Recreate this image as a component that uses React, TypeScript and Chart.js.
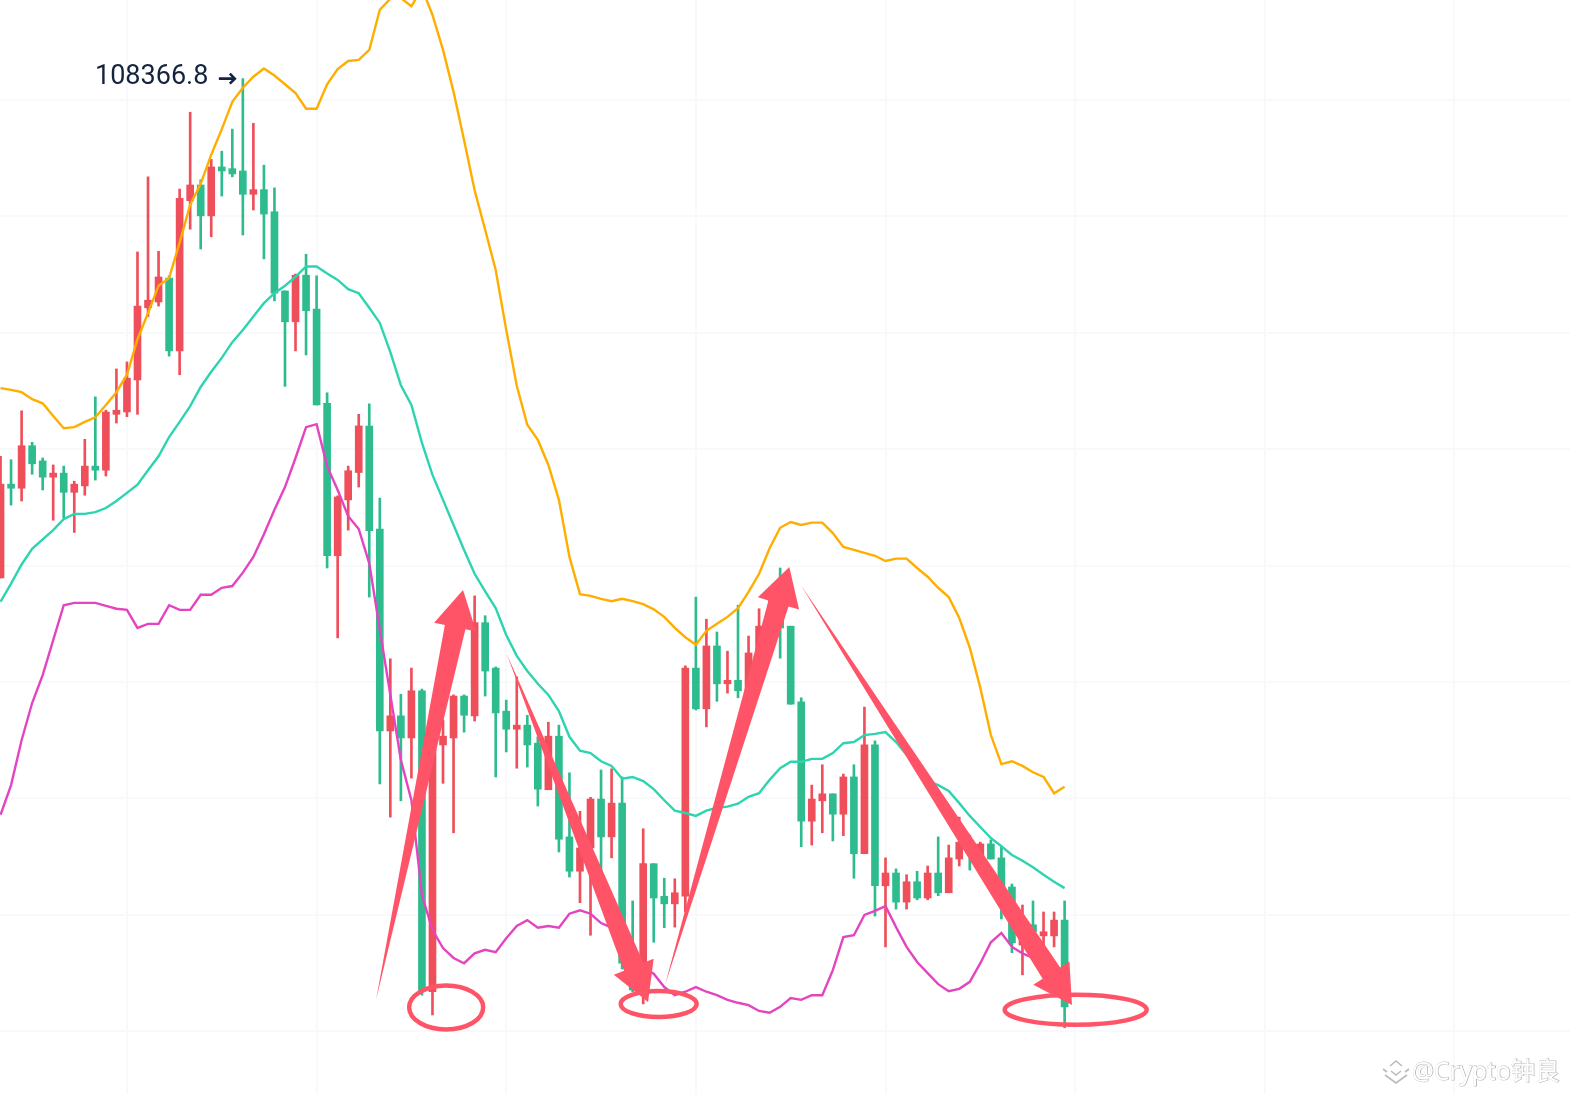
import React, { useEffect, useRef } from 'react';
import { Chart, ChartConfiguration, Plugin, registerables } from 'chart.js';

Chart.register(...registerables);

const opens = [99790, 101400, 101330, 102060, 101800, 101520, 101590, 101260, 101370, 101710, 101640, 102600, 102640, 103190, 104430, 104530, 104940, 103690, 106270, 106540, 106010, 106850, 106820, 106780, 106380, 106460, 106080, 104720, 104190, 104990, 104410, 102790, 100170, 101130, 101600, 102400, 100630, 97160, 97420, 97040, 97850, 92680, 96920, 97040, 97760, 97420, 99020, 98240, 97500, 97190, 97260, 96950, 96150, 97070, 95340, 94750, 95150, 95990, 95340, 95920, 93140, 92710, 94880, 94320, 94190, 94320, 98240, 97540, 98620, 97970, 98030, 97860, 98500, 98960, 99200, 98960, 97660, 95610, 95960, 96080, 95730, 96370, 95050, 96920, 94500, 94720, 94220, 94570, 94290, 94720, 94380, 94960, 95250, 94980, 95220, 94980, 94480, 93480, 93830, 93640, 93640, 93910];
const closes = [101400, 101330, 102060, 101750, 101520, 101590, 101260, 101400, 101710, 101640, 102640, 102670, 103220, 104460, 104560, 104960, 103690, 106310, 106540, 106010, 106850, 106780, 106730, 106380, 106460, 106040, 104680, 104190, 104990, 104380, 102760, 100170, 101180, 101630, 102400, 100600, 97160, 97420, 97040, 97850, 92690, 96920, 97070, 97760, 97430, 99020, 98190, 97470, 97190, 97260, 96920, 96160, 97070, 95300, 94750, 95150, 95990, 95340, 95920, 93170, 92710, 94880, 94290, 94190, 94380, 98240, 97540, 98620, 97970, 98030, 97850, 98500, 98960, 99200, 98930, 97620, 95610, 95990, 96080, 95730, 96370, 95050, 96920, 94500, 94720, 94220, 94570, 94290, 94720, 94380, 94980, 95250, 95100, 95220, 94960, 94260, 93520, 93830, 93710, 93710, 93910, 92420];
const highs = [101880, 101820, 102660, 102120, 101850, 101730, 101710, 101450, 102170, 102900, 102670, 103380, 103500, 105390, 106680, 105400, 104980, 106470, 107790, 106630, 106980, 107120, 107500, 108366.8, 107600, 106880, 106490, 104720, 105010, 105350, 104980, 102970, 101200, 101710, 102600, 102780, 101160, 98400, 97790, 98240, 97880, 97690, 97350, 97780, 97780, 99480, 99140, 98260, 97690, 98090, 97430, 97060, 97310, 97260, 96440, 95780, 96020, 96490, 96510, 96370, 94240, 95480, 94880, 94630, 94620, 98280, 99460, 99080, 98860, 98530, 99320, 98790, 99260, 99410, 99960, 98960, 97730, 96230, 96580, 96080, 96420, 96580, 97570, 96990, 94980, 94790, 94690, 94750, 94840, 95340, 95200, 95680, 95370, 95250, 95290, 95180, 94530, 94170, 94240, 94050, 94050, 94240];
const lows = [99790, 101040, 101110, 101570, 101300, 100780, 100820, 100570, 101210, 101470, 101540, 102450, 102560, 102600, 104280, 104460, 103600, 103280, 105780, 105440, 105650, 106350, 106680, 105680, 106110, 105270, 104550, 103080, 103690, 103620, 102760, 99960, 98760, 100610, 101350, 99460, 96250, 95680, 95960, 96350, 92620, 92280, 96260, 95410, 97140, 97330, 97760, 96370, 96800, 96520, 96540, 95870, 96150, 95080, 94650, 94210, 93650, 94720, 94980, 93070, 92680, 92470, 93530, 93780, 93790, 94050, 97520, 97230, 97670, 97810, 97730, 97640, 98380, 98720, 98410, 97620, 95170, 95200, 95410, 95270, 95360, 94630, 95050, 93980, 93450, 94100, 94100, 94260, 94260, 94330, 94380, 94840, 94770, 94910, 94960, 93930, 93350, 92970, 93400, 93310, 93450, 92060];

const upperBand = [103050, 103020, 102980, 102860, 102790, 102570, 102360, 102380, 102470, 102550, 102760, 102980, 103280, 103890, 104340, 104810, 104940, 105550, 106200, 106560, 107060, 107500, 107970, 108210, 108400, 108540, 108420, 108270, 108120, 107850, 107850, 108270, 108530, 108670, 108690, 108860, 109550, 109740, 109750, 109610, 109920, 109460, 108860, 108140, 107310, 106450, 105770, 105080, 104050, 103090, 102420, 102160, 101730, 101130, 100150, 99510, 99480, 99430, 99390, 99430, 99390, 99340, 99250, 99120, 98930, 98770, 98640, 98880, 99000, 99120, 99270, 99550, 99860, 100300, 100650, 100750, 100700, 100740, 100740, 100560, 100320, 100270, 100220, 100170, 100080, 100120, 100120, 99960, 99810, 99620, 99460, 99100, 98590, 97900, 97090, 96590, 96640, 96560, 96450, 96370, 96090, 96200];
const middleBand = [99380, 99690, 100020, 100290, 100450, 100610, 100800, 100890, 100890, 100920, 100990, 101110, 101250, 101390, 101640, 101880, 102210, 102470, 102740, 103070, 103330, 103570, 103840, 104050, 104280, 104510, 104680, 104810, 104960, 105140, 105140, 105020, 104910, 104750, 104680, 104430, 104170, 103670, 103100, 102760, 102110, 101560, 101130, 100700, 100270, 99860, 99560, 99270, 98810, 98450, 98190, 97970, 97780, 97500, 97060, 96820, 96780, 96640, 96560, 96340, 96370, 96300, 96160, 95970, 95790, 95750, 95700, 95790, 95840, 95860, 95910, 96030, 96090, 96320, 96520, 96630, 96630, 96680, 96680, 96780, 96950, 96970, 97090, 97110, 97140, 96970, 96750, 96520, 96300, 96230, 96130, 95920, 95700, 95510, 95320, 95180, 95030, 94930, 94820, 94690, 94570, 94460];
const lowerBand = [95720, 96230, 97000, 97640, 98120, 98720, 99320, 99360, 99360, 99360, 99310, 99260, 99240, 98930, 99000, 99000, 99320, 99240, 99240, 99500, 99500, 99620, 99650, 99880, 100150, 100540, 100960, 101350, 101850, 102380, 102430, 101710, 101300, 100850, 100630, 100040, 98900, 97780, 96660, 95970, 94340, 93740, 93430, 93260, 93170, 93340, 93400, 93360, 93600, 93810, 93910, 93780, 93810, 93780, 94020, 94080, 94020, 93860, 93780, 93480, 93280, 93090, 92990, 92760, 92620, 92680, 92760, 92680, 92620, 92540, 92490, 92450, 92350, 92320, 92420, 92570, 92540, 92620, 92620, 93050, 93620, 93650, 94000, 94070, 94150, 93790, 93450, 93190, 93000, 92810, 92690, 92730, 92850, 93170, 93530, 93690, 93450, 93340, 93260, 93120, 92880, 92540];

const priceTicks = [108000, 106000, 104000, 102000, 100000, 98000, 96000, 94000, 92000];
const timeTicks = [12, 30, 48, 66, 84, 102, 120, 138];

// hand drawn marks on top of the chart, [candle index, price]
const arrows = [
  { from: [35.64, 92538], to: [43.9, 99582] },
  { from: [48.05, 98482], to: [61.46, 92504] },
  { from: [63.07, 92796], to: [74.87, 99977] },
  { from: [75.96, 99668], to: [101.7, 92452] },
];
const circles = [
  { at: [42.3, 92410], rx: 37, ry: 22 },
  { at: [62.47, 92470], rx: 38, ry: 13 },
  { at: [102.05, 92370], rx: 71, ry: 15 },
];
const peakIndex = 23;
const peakLabel = '108366.8';
const watermark = '@Crypto钟良';

const RED = '#EF4F5A';
const GREEN = '#2EBC8F';
const MARKER = '#FF5468';

const overlay: Plugin<'bar'> = {
  id: 'overlay',
  afterDatasetsDraw(chart) {
    const { ctx, scales } = chart;
    const px = (p: number[]) => [scales.x.getPixelForValue(p[0]), scales.y.getPixelForValue(p[1])];

    ctx.save();
    ctx.strokeStyle = MARKER;
    ctx.lineWidth = 4.5;
    circles.forEach((c) => {
      const [cx, cy] = px(c.at);
      ctx.beginPath();
      ctx.ellipse(cx, cy, c.rx, c.ry, 0, 0, Math.PI * 2);
      ctx.stroke();
    });

    ctx.fillStyle = MARKER;
    arrows.forEach((a) => {
      const [x0, y0] = px(a.from);
      const [x1, y1] = px(a.to);
      const len = Math.hypot(x1 - x0, y1 - y0);
      const ux = (x1 - x0) / len;
      const uy = (y1 - y0) / len;
      const bx = x1 - ux * 38;
      const by = y1 - uy * 38;
      ctx.beginPath();
      ctx.moveTo(x0, y0);
      ctx.lineTo(bx - uy * 10.5, by + ux * 10.5);
      ctx.lineTo(bx - uy * 21.5, by + ux * 21.5);
      ctx.lineTo(x1, y1);
      ctx.lineTo(bx + uy * 21.5, by - ux * 21.5);
      ctx.lineTo(bx + uy * 10.5, by - ux * 10.5);
      ctx.closePath();
      ctx.fill();
    });

    // price tag left of the top wick
    const [peakX, peakY] = px([peakIndex, highs[peakIndex]]);
    ctx.fillStyle = '#14233F';
    ctx.font = '27px Roboto';
    ctx.textAlign = 'right';
    ctx.textBaseline = 'middle';
    ctx.fillText(peakLabel, peakX - 34.5, peakY - 1.5);
    ctx.strokeStyle = '#14233F';
    ctx.lineWidth = 2.6;
    ctx.beginPath();
    ctx.moveTo(peakX - 24, peakY);
    ctx.lineTo(peakX - 8, peakY);
    ctx.moveTo(peakX - 13, peakY - 5);
    ctx.lineTo(peakX - 8, peakY);
    ctx.lineTo(peakX - 13, peakY + 5);
    ctx.stroke();

    // embossed watermark, bottom right
    const w = chart.width;
    const h = chart.height;
    ctx.font = '24.5px "Noto Sans", "Noto Sans CJK SC"';
    ctx.textAlign = 'right';
    ctx.lineWidth = 1;
    ctx.strokeStyle = 'rgba(120,120,120,0.5)';
    ctx.fillStyle = '#fff';
    ctx.strokeText(watermark, w - 10, h - 21);
    ctx.fillText(watermark, w - 10.5, h - 21);

    const lx = w - 174;
    const ly = h - 24;
    ctx.lineWidth = 1.6;
    ctx.strokeStyle = 'rgba(130,130,130,0.55)';
    ctx.beginPath();
    ctx.moveTo(lx - 6, ly - 4);
    ctx.lineTo(lx, ly - 9);
    ctx.lineTo(lx + 6, ly - 4);
    ctx.moveTo(lx - 13, ly - 1);
    ctx.lineTo(lx - 9, ly + 2);
    ctx.moveTo(lx + 13, ly - 1);
    ctx.lineTo(lx + 9, ly + 2);
    ctx.moveTo(lx - 5, ly + 1);
    ctx.lineTo(lx, ly + 5);
    ctx.lineTo(lx + 5, ly + 1);
    ctx.moveTo(lx - 11, ly + 5);
    ctx.lineTo(lx, ly + 13);
    ctx.lineTo(lx + 11, ly + 5);
    ctx.stroke();
    ctx.restore();
  },
};

const candleColors = closes.map((c, i) => (c >= opens[i] ? RED : GREEN));

const bandDataset = (values: number[], color: string) => ({
  type: 'line' as const,
  data: values.map((y, x) => ({ x, y })),
  borderColor: color,
  borderWidth: 2.4,
  pointRadius: 0,
  tension: 0,
  order: 1,
});

const App: React.FC = () => {
  const canvasRef = useRef<HTMLCanvasElement | null>(null);

  useEffect(() => {
    if (!canvasRef.current) return;

    const config: ChartConfiguration = {
      type: 'bar',
      data: {
        datasets: [
          {
            data: highs.map((h, x) => ({ x, y: [lows[x], h] })),
            backgroundColor: candleColors,
            barThickness: 2,
            grouped: false,
            order: 3,
          },
          {
            data: opens.map((o, x) => ({ x, y: [o, closes[x]] })),
            backgroundColor: candleColors,
            barThickness: 7,
            grouped: false,
            order: 2,
          },
          bandDataset(upperBand, '#FFAE00'),
          bandDataset(middleBand, '#2DD4B0'),
          bandDataset(lowerBand, '#E444C0'),
        ] as any,
      },
      options: {
        animation: false,
        responsive: false,
        layout: { padding: 0 },
        plugins: { legend: { display: false }, tooltip: { enabled: false } },
        scales: {
          x: {
            type: 'linear',
            min: -0.05,
            max: 148.97,
            offset: false,
            border: { display: false },
            grid: { color: '#F8F9FA', lineWidth: 2, drawTicks: false, offset: false },
            ticks: { display: false },
            afterBuildTicks: (scale) => {
              scale.ticks = timeTicks.map((value) => ({ value }));
            },
          },
          y: {
            min: 90923,
            max: 109718,
            border: { display: false },
            grid: { color: '#F8F9FA', lineWidth: 2, drawTicks: false },
            ticks: { display: false },
            afterBuildTicks: (scale) => {
              scale.ticks = priceTicks.map((value) => ({ value }));
            },
          },
        },
      },
      plugins: [overlay as Plugin],
    };

    const chart = new Chart(canvasRef.current, config);
    return () => chart.destroy();
  }, []);

  return (
    <canvas
      ref={canvasRef}
      width={1570}
      height={1094}
      style={{ position: 'absolute', left: 0, top: 0, width: 1570, height: 1094 }}
    />
  );
};

export default App;
